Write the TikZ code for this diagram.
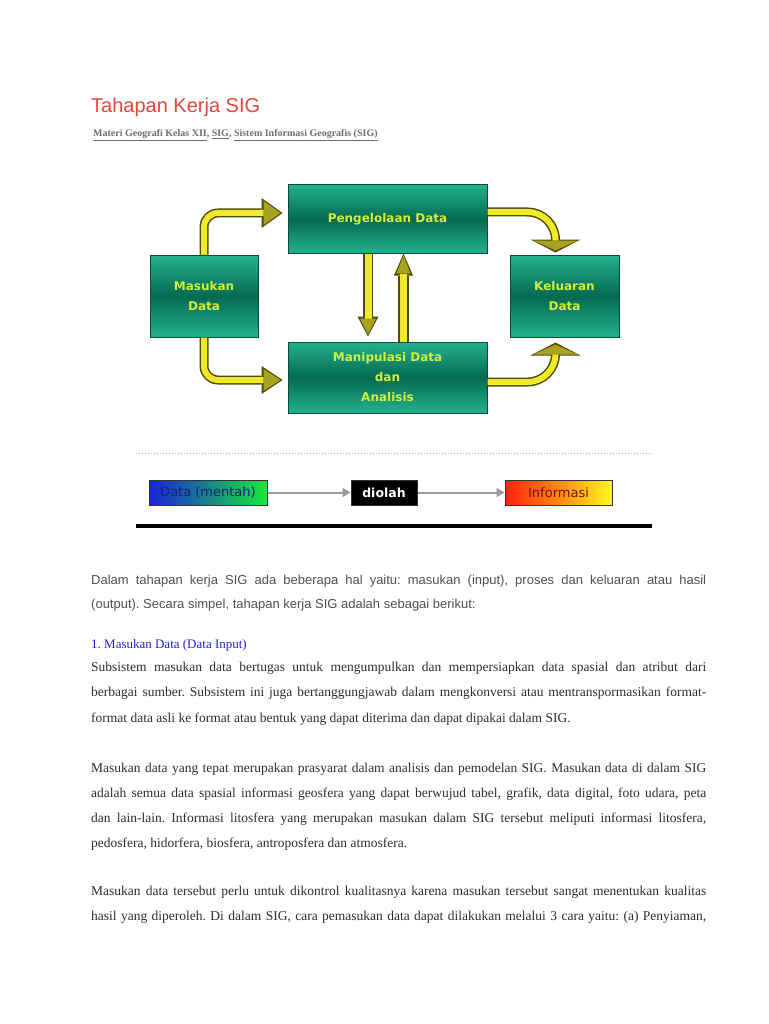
\documentclass[tikz,border=0pt]{standalone}
\usepackage{fontspec}
\usepackage{xcolor,tikz}
\usetikzlibrary{arrows.meta,positioning,calc}
\newfontfamily\arialfont{Liberation Sans}
\newfontfamily\timesfont{Liberation Serif}
\newfontfamily\chartfont{DejaVu Sans}
\definecolor{titlered}{HTML}{E8453C}
\definecolor{linkgray}{HTML}{6E6E6E}
\definecolor{textgray}{HTML}{505050}
\definecolor{bodygray}{HTML}{2E2E2E}
\definecolor{headblue}{HTML}{2323C8}
\definecolor{boxlight}{HTML}{22B28E}
\definecolor{boxdark}{HTML}{066A50}
\definecolor{boxedge}{HTML}{0E4A3A}
\definecolor{boxtext}{HTML}{D4EE3C}
\definecolor{rimolive}{HTML}{4E4C08}
\definecolor{shaftyellow}{HTML}{F0EA28}
\definecolor{headolive}{HTML}{A8A222}
\definecolor{strippink}{HTML}{F08C8C}
\definecolor{stripgray}{HTML}{9A9A9A}
\definecolor{rawblue}{HTML}{1A22D8}
\definecolor{rawgreen}{HTML}{18E83A}
\definecolor{rawtext}{HTML}{16207A}
\definecolor{infored}{HTML}{FF2010}
\definecolor{infoorange}{HTML}{FF8A10}
\definecolor{infoyellow}{HTML}{FFF820}
\definecolor{infotext}{HTML}{7A1008}
\hyphenpenalty=10000
\frenchspacing
\tikzset{flowbox/.style={draw=boxedge,line width=1pt,top color=boxlight,bottom color=boxlight,
  middle color=boxdark,text=boxtext,align=center,inner sep=0pt,
  font=\chartfont\bfseries\fontsize{12}{20}\selectfont},
  stripbox/.style={draw=black!80,line width=1pt,minimum height=25pt,inner sep=0pt,
  font=\chartfont\fontsize{13}{15}\selectfont},
  rim/.style 2 args={draw=rimolive,line width=9pt,
  -{Triangle[length=#1,width=#2,fill=rimolive,line width=0pt]}},
  core/.style 2 args={draw=shaftyellow,line width=6pt,
  -{Triangle[length=#1,width=#2,fill=headolive,line width=0pt]}},
  grayarrow/.style={draw=stripgray,line width=2pt,-{Triangle[length=8pt,width=9pt]}},
  para/.style={anchor=base west,inner sep=0pt,text width=615pt,align=justify}}

\begin{document}
\begin{tikzpicture}[x=1pt,y=-1pt]
\useasboundingbox[fill=white] (0,0) rectangle (768,1024);

% page heading
\node[anchor=base west,inner sep=0pt,text=titlered,
  font=\arialfont\fontsize{20}{24}\selectfont] (title) at (91,113) {Tahapan Kerja SIG};
\node[anchor=base west,inner sep=0pt,text=linkgray,
  font=\timesfont\bfseries\fontsize{10}{12}\selectfont] (tags) at (93,137)
  {\underline{Materi Geografi Kelas XII}, \underline{SIG}, \underline{Sistem Informasi Geografis (SIG)}};

% stages
\node[flowbox,minimum width=199pt,minimum height=68pt] (pengelolaan) at (387.5,219) {Pengelolaan Data};
\node[flowbox,minimum width=108pt,minimum height=82pt] (masukan) at (204,296) {Masukan\\Data};
\node[flowbox,minimum width=109pt,minimum height=82pt] (keluaran) at (564.5,296) {Keluaran\\Data};
\node[flowbox,minimum width=199pt,minimum height=71pt] (manipulasi) at (387.5,377.5)
  {Manipulasi Data\\dan\\Analisis};

% fat arrows, rim first then core
\draw[rim={21pt}{30pt},rounded corners=14pt,shorten >=5pt] (masukan.north) |- ([yshift=6pt]pengelolaan.west);
\draw[core={17pt}{24pt},rounded corners=14pt,shorten >=7pt] (masukan.north) |- ([yshift=6pt]pengelolaan.west);
\draw[rim={21pt}{28pt},rounded corners=14pt,shorten >=5pt] (masukan.south) |- ([yshift=-2.5pt]manipulasi.west);
\draw[core={17pt}{22pt},rounded corners=14pt,shorten >=7pt] (masukan.south) |- ([yshift=-2.5pt]manipulasi.west);
\draw[rim={13pt}{50pt},rounded corners=28pt,shorten >=2pt] ([yshift=7pt]pengelolaan.east) -| ([xshift=-9pt]keluaran.north);
\draw[core={10pt}{44pt},rounded corners=28pt,shorten >=4pt] ([yshift=7pt]pengelolaan.east) -| ([xshift=-9pt]keluaran.north);
\draw[rim={13pt}{50pt},rounded corners=28pt,shorten >=5pt] ([yshift=-4.5pt]manipulasi.east) -| ([xshift=-9pt]keluaran.south);
\draw[core={10pt}{44pt},rounded corners=28pt,shorten >=7pt] ([yshift=-4.5pt]manipulasi.east) -| ([xshift=-9pt]keluaran.south);
\draw[rim={20pt}{21pt},line width=10.5pt,shorten >=5pt] ([xshift=-19.5pt]pengelolaan.south) -- ([xshift=-19.5pt]manipulasi.north);
\draw[core={16pt}{16pt},line width=7pt,shorten >=7pt] ([xshift=-19.5pt]pengelolaan.south) -- ([xshift=-19.5pt]manipulasi.north);
\draw[rim={22pt}{19pt},line width=10.5pt] ([xshift=16pt]manipulasi.north) -- ([xshift=16pt]pengelolaan.south);
\draw[core={18pt}{14pt},line width=7pt,shorten >=2pt] ([xshift=16pt]manipulasi.north) -- ([xshift=16pt]pengelolaan.south);

% raw data strip
\draw[strippink,dotted,line width=1pt] (136,453) -- (652,453);
\node[stripbox,left color=rawblue,right color=rawgreen,text=rawtext,minimum width=118pt] (mentah) at (208,492.5) {Data (mentah)};
\node[stripbox,fill=black,text=white,minimum width=66pt,font=\chartfont\bfseries\fontsize{12.5}{15}\selectfont] (diolah) at (384,492.5) {diolah};
\node[stripbox,left color=infored,right color=infoyellow,middle color=infoorange,text=infotext,minimum width=107pt] (informasi) at (558.5,492.5) {Informasi};
\draw[grayarrow] (mentah) -- (diolah);
\draw[grayarrow] (diolah) -- (informasi);
\draw[black,line width=3.5pt] (136,526) -- (652,526);

% article text
\node[para,text=textgray,font=\arialfont\fontsize{13}{24}\selectfont] (intro) at (91,584)
  {Dalam tahapan kerja SIG ada beberapa hal yaitu: masukan (input), proses dan keluaran atau hasil\linebreak
  (output). Secara simpel, tahapan kerja SIG adalah sebagai berikut:};
\node[anchor=base west,inner sep=0pt,text=headblue,font=\timesfont\fontsize{13}{15}\selectfont] (subhead) at (91,648)
  {1. Masukan Data (Data Input)};
\node[para,text=bodygray,font=\timesfont\fontsize{13.5}{25.5}\selectfont] (parone) at (91,671)
  {Subsistem masukan data bertugas untuk mengumpulkan dan mempersiapkan data spasial dan atribut dari\linebreak
  berbagai sumber. Subsistem ini juga bertanggungjawab dalam mengkonversi atau mentranspormasikan format-\linebreak
  format data asli ke format atau bentuk yang dapat diterima dan dapat dipakai dalam SIG.};
\node[para,text=bodygray,font=\timesfont\fontsize{13.5}{25.2}\selectfont] (partwo) at (91,772)
  {Masukan data yang tepat merupakan prasyarat dalam analisis dan pemodelan SIG. Masukan data di dalam SIG\linebreak
  adalah semua data spasial informasi geosfera yang dapat berwujud tabel, grafik, data digital, foto udara, peta\linebreak
  dan lain-lain. Informasi litosfera yang merupakan masukan dalam SIG tersebut meliputi informasi litosfera,\linebreak
  pedosfera, hidorfera, biosfera, antroposfera dan atmosfera.};
\node[para,text=bodygray,font=\timesfont\fontsize{13.5}{25}\selectfont] (parthree) at (91,895)
  {Masukan data tersebut perlu untuk dikontrol kualitasnya karena masukan tersebut sangat menentukan kualitas\linebreak
  hasil yang diperoleh. Di dalam SIG, cara pemasukan data dapat dilakukan melalui 3 cara yaitu: (a) Penyiaman,\parfillskip=0pt\par};
\end{tikzpicture}
\end{document}
